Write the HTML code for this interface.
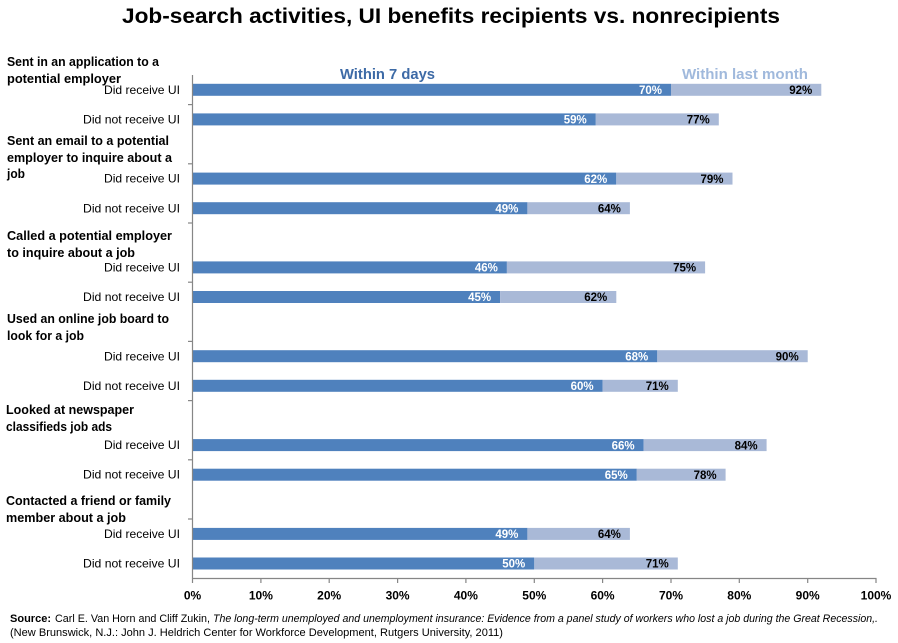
<!DOCTYPE html>
<html>
<head>
<meta charset="utf-8">
<style>
html,body{margin:0;padding:0;background:#fff;}
svg{display:block;}
text{font-family:"Liberation Sans",Arial,sans-serif;}
</style>
</head>
<body>
<svg width="898" height="643" viewBox="0 0 898 643" xmlns="http://www.w3.org/2000/svg">
<rect width="898" height="643" fill="#fff"/>
<!-- Title -->
<text x="122" y="23" font-size="21" font-weight="bold" fill="#000" textLength="658" lengthAdjust="spacingAndGlyphs">Job-search activities, UI benefits recipients vs. nonrecipients</text>

<!-- Legend -->
<text x="340" y="79" font-size="15" font-weight="bold" fill="#3D6AA6" textLength="95" lengthAdjust="spacingAndGlyphs">Within 7 days</text>
<text x="682" y="79" font-size="15" font-weight="bold" fill="#A0B9DC" textLength="126" lengthAdjust="spacingAndGlyphs">Within last month</text>

<!-- Headings -->
<g font-size="13" font-weight="bold" fill="#000">
<text x="7" y="66" textLength="152" lengthAdjust="spacingAndGlyphs">Sent in an application to a</text>
<text x="7" y="83" textLength="114" lengthAdjust="spacingAndGlyphs">potential employer</text>
<text x="7" y="145" textLength="162" lengthAdjust="spacingAndGlyphs">Sent an email to a potential</text>
<text x="7" y="162" textLength="165" lengthAdjust="spacingAndGlyphs">employer to inquire about a</text>
<text x="7" y="178" textLength="18" lengthAdjust="spacingAndGlyphs">job</text>
<text x="7" y="240" textLength="165" lengthAdjust="spacingAndGlyphs">Called a potential employer</text>
<text x="7" y="257" textLength="128" lengthAdjust="spacingAndGlyphs">to inquire about a job</text>
<text x="7" y="323" textLength="162" lengthAdjust="spacingAndGlyphs">Used an online job board to</text>
<text x="7" y="340" textLength="77" lengthAdjust="spacingAndGlyphs">look for a job</text>
<text x="6" y="414" textLength="128" lengthAdjust="spacingAndGlyphs">Looked at newspaper</text>
<text x="6" y="431" textLength="106" lengthAdjust="spacingAndGlyphs">classifieds job ads</text>
<text x="6" y="505" textLength="165" lengthAdjust="spacingAndGlyphs">Contacted a friend or family</text>
<text x="6" y="522" textLength="120" lengthAdjust="spacingAndGlyphs">member about a job</text>
</g>

<!-- Category labels -->
<g font-size="12" fill="#000" text-anchor="end">
<text x="180" y="94" textLength="76" lengthAdjust="spacingAndGlyphs">Did receive UI</text>
<text x="180" y="123.5" textLength="97" lengthAdjust="spacingAndGlyphs">Did not receive UI</text>
<text x="180" y="182.7" textLength="76" lengthAdjust="spacingAndGlyphs">Did receive UI</text>
<text x="180" y="212.3" textLength="97" lengthAdjust="spacingAndGlyphs">Did not receive UI</text>
<text x="180" y="271.5" textLength="76" lengthAdjust="spacingAndGlyphs">Did receive UI</text>
<text x="180" y="301.1" textLength="97" lengthAdjust="spacingAndGlyphs">Did not receive UI</text>
<text x="180" y="360.3" textLength="76" lengthAdjust="spacingAndGlyphs">Did receive UI</text>
<text x="180" y="389.9" textLength="97" lengthAdjust="spacingAndGlyphs">Did not receive UI</text>
<text x="180" y="449.2" textLength="76" lengthAdjust="spacingAndGlyphs">Did receive UI</text>
<text x="180" y="478.7" textLength="97" lengthAdjust="spacingAndGlyphs">Did not receive UI</text>
<text x="180" y="538" textLength="76" lengthAdjust="spacingAndGlyphs">Did receive UI</text>
<text x="180" y="567.6" textLength="97" lengthAdjust="spacingAndGlyphs">Did not receive UI</text>
</g>

<!-- Bars: x0=192.5, 6.835 px per % -->
<g>
<!-- g0 R 70/92 center 89.8 -->
<rect x="192.5" y="83.8" width="478.5" height="12" fill="#4F81BD"/>
<rect x="671" y="83.8" width="150.3" height="12" fill="#A9B9D7"/>
<!-- g0 N 59/77 center 119.4 -->
<rect x="192.5" y="113.4" width="403.3" height="12" fill="#4F81BD"/>
<rect x="595.8" y="113.4" width="123" height="12" fill="#A9B9D7"/>
<!-- g1 R 62/79 center 178.6 -->
<rect x="192.5" y="172.6" width="423.8" height="12" fill="#4F81BD"/>
<rect x="616.3" y="172.6" width="116.2" height="12" fill="#A9B9D7"/>
<!-- g1 N 49/64 center 208.2 -->
<rect x="192.5" y="202.2" width="334.9" height="12" fill="#4F81BD"/>
<rect x="527.4" y="202.2" width="102.5" height="12" fill="#A9B9D7"/>
<!-- g2 R 46/75 center 267.4 -->
<rect x="192.5" y="261.4" width="314.4" height="12" fill="#4F81BD"/>
<rect x="506.9" y="261.4" width="198.2" height="12" fill="#A9B9D7"/>
<!-- g2 N 45/62 center 297 -->
<rect x="192.5" y="291" width="307.6" height="12" fill="#4F81BD"/>
<rect x="500.1" y="291" width="116.2" height="12" fill="#A9B9D7"/>
<!-- g3 R 68/90 center 356.2 -->
<rect x="192.5" y="350.2" width="464.8" height="12" fill="#4F81BD"/>
<rect x="657.3" y="350.2" width="150.4" height="12" fill="#A9B9D7"/>
<!-- g3 N 60/71 center 385.8 -->
<rect x="192.5" y="379.8" width="410.1" height="12" fill="#4F81BD"/>
<rect x="602.6" y="379.8" width="75.2" height="12" fill="#A9B9D7"/>
<!-- g4 R 66/84 center 445.1 -->
<rect x="192.5" y="439.1" width="451.1" height="12" fill="#4F81BD"/>
<rect x="643.6" y="439.1" width="123" height="12" fill="#A9B9D7"/>
<!-- g4 N 65/78 center 474.7 -->
<rect x="192.5" y="468.7" width="444.3" height="12" fill="#4F81BD"/>
<rect x="636.8" y="468.7" width="88.8" height="12" fill="#A9B9D7"/>
<!-- g5 R 49/64 center 533.9 -->
<rect x="192.5" y="527.9" width="334.9" height="12" fill="#4F81BD"/>
<rect x="527.4" y="527.9" width="102.5" height="12" fill="#A9B9D7"/>
<!-- g5 N 50/71 center 563.5 -->
<rect x="192.5" y="557.5" width="341.8" height="12" fill="#4F81BD"/>
<rect x="534.3" y="557.5" width="143.5" height="12" fill="#A9B9D7"/>
</g>

<!-- Value labels -->
<g font-size="11.5" font-weight="bold" text-anchor="end">
<g fill="#fff">
<text x="662" y="94">70%</text>
<text x="586.8" y="123.6">59%</text>
<text x="607.3" y="182.8">62%</text>
<text x="518.4" y="212.4">49%</text>
<text x="497.9" y="271.6">46%</text>
<text x="491.1" y="301.2">45%</text>
<text x="648.3" y="360.4">68%</text>
<text x="593.6" y="390">60%</text>
<text x="634.6" y="449.3">66%</text>
<text x="627.8" y="478.9">65%</text>
<text x="518.4" y="538.1">49%</text>
<text x="525.3" y="567.7">50%</text>
</g>
<g fill="#000">
<text x="812.3" y="94">92%</text>
<text x="709.8" y="123.6">77%</text>
<text x="723.5" y="182.8">79%</text>
<text x="620.9" y="212.4">64%</text>
<text x="696.1" y="271.6">75%</text>
<text x="607.3" y="301.2">62%</text>
<text x="798.7" y="360.4">90%</text>
<text x="668.8" y="390">71%</text>
<text x="757.6" y="449.3">84%</text>
<text x="716.6" y="478.9">78%</text>
<text x="620.9" y="538.1">64%</text>
<text x="668.8" y="567.7">71%</text>
</g>
</g>

<!-- Axes -->
<g stroke="#868686" stroke-width="1.2" fill="none">
<line x1="192.5" y1="75" x2="192.5" y2="578.5"/>
<line x1="192.5" y1="578.5" x2="876.5" y2="578.5"/>
<line x1="188" y1="104.6" x2="192.5" y2="104.6"/>
<line x1="188" y1="163.8" x2="192.5" y2="163.8"/>
<line x1="188" y1="223" x2="192.5" y2="223"/>
<line x1="188" y1="282.2" x2="192.5" y2="282.2"/>
<line x1="188" y1="341.4" x2="192.5" y2="341.4"/>
<line x1="188" y1="400.6" x2="192.5" y2="400.6"/>
<line x1="188" y1="459.8" x2="192.5" y2="459.8"/>
<line x1="188" y1="519" x2="192.5" y2="519"/>
<line x1="192.5" y1="578" x2="192.5" y2="583"/>
<line x1="260.9" y1="578" x2="260.9" y2="583"/>
<line x1="329.2" y1="578" x2="329.2" y2="583"/>
<line x1="397.6" y1="578" x2="397.6" y2="583"/>
<line x1="465.9" y1="578" x2="465.9" y2="583"/>
<line x1="534.3" y1="578" x2="534.3" y2="583"/>
<line x1="602.6" y1="578" x2="602.6" y2="583"/>
<line x1="671" y1="578" x2="671" y2="583"/>
<line x1="739.3" y1="578" x2="739.3" y2="583"/>
<line x1="807.7" y1="578" x2="807.7" y2="583"/>
<line x1="876" y1="578" x2="876" y2="583"/>
</g>

<!-- X tick labels -->
<g font-size="12" font-weight="bold" fill="#000" text-anchor="middle">
<text x="192.5" y="599.5">0%</text>
<text x="260.9" y="599.5">10%</text>
<text x="329.2" y="599.5">20%</text>
<text x="397.6" y="599.5">30%</text>
<text x="465.9" y="599.5">40%</text>
<text x="534.3" y="599.5">50%</text>
<text x="602.6" y="599.5">60%</text>
<text x="671" y="599.5">70%</text>
<text x="739.3" y="599.5">80%</text>
<text x="807.7" y="599.5">90%</text>
<text x="876" y="599.5">100%</text>
</g>

<!-- Source -->
<g font-size="11" fill="#000">
<text x="10" y="622" font-weight="bold" textLength="41" lengthAdjust="spacingAndGlyphs">Source:</text>
<text x="55" y="622" textLength="155" lengthAdjust="spacingAndGlyphs">Carl E. Van Horn and Cliff Zukin,</text>
<text x="213" y="622" font-style="italic" textLength="665" lengthAdjust="spacingAndGlyphs">The long-term unemployed and unemployment insurance: Evidence from a panel study of workers who lost a job during the Great Recession,.</text>
<text x="10" y="636" textLength="493" lengthAdjust="spacingAndGlyphs">(New Brunswick, N.J.: John J. Heldrich Center for Workforce Development, Rutgers University, 2011)</text>
</g>
</svg>
</body>
</html>
